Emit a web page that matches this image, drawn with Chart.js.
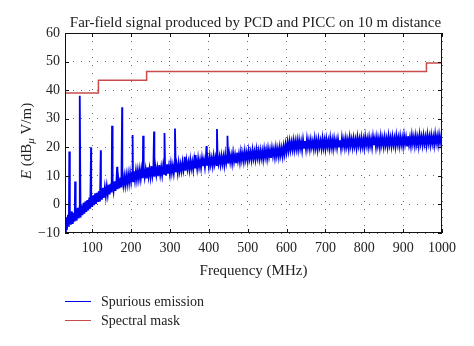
<!DOCTYPE html>
<html>
<head>
<meta charset="utf-8">
<script src="https://cdn.jsdelivr.net/npm/chart.js@4.4.1/dist/chart.umd.min.js"></script>
<style>
  html, body { margin: 0; padding: 0; background: #fff; }
  #wrap { position: relative; width: 474px; height: 346px; }
  #legend { position: absolute; left: 65px; top: 292px; font: 14px 'Liberation Serif', serif; color: #222; }
  .item { display: flex; align-items: center; height: 19px; }
  .swatch { width: 26px; height: 0; border-top: 1.5px solid; margin-right: 10px; }
</style>
</head>
<body>
<div id="wrap">
  <canvas id="spectrum" width="474" height="346"></canvas>
  <div id="legend"></div>
</div>
<script>
// field strength samples every 2.5 MHz, 30 .. 1000 MHz (dBuV/m), one row per 100 MHz
const traceStartMHz = 30;
const traceStepMHz = 2.5;
const emissionLevel = [
  -9.7, -4.5, -8.9, -3.6, -7.8, -3.9, -7.1, -2.4, -6.8, -2.9, -6.0, -1.5, -5.7, -1.2, -4.9, -0.8, -4.6, -0.3, -3.8, 0.6,
  -3.2, 1.1, -2.6, 1.5, -2.1, 2.4, -1.5, 2.6, -0.9, 3.2, -0.3, 3.9, 0.2, 4.1, 0.9, 4.7, 1.0, 5.3, 1.7, 5.8,

  2.3, 6.0, 2.9, 6.4, 3.4, 6.9, 3.5, 7.3, 4.2, 7.5, 4.6, 8.1, 4.7, 8.4, 5.3, 8.8, 5.6, 9.4, 6.0, 9.5,
  6.6, 9.9, 6.8, 10.3, 7.2, 10.6, 7.5, 11.0, 7.9, 11.2, 8.1, 11.6, 8.4, 11.8, 8.6, 11.9, 8.9, 12.2, 9.0, 12.3,

  9.2, 12.5, 9.5, 12.3, 9.1, 13.0, 9.8, 12.6, 9.6, 13.4, 10.0, 12.8, 9.7, 13.3, 10.3, 12.9, 9.9, 13.8, 10.4, 13.1,
  10.2, 13.6, 10.7, 13.2, 10.1, 14.0, 10.8, 13.5, 10.6, 14.2, 11.1, 13.7, 10.9, 14.3, 11.3, 13.9, 11.0, 14.6, 11.6, 14.1,

  11.7, 14.9, 12.0, 14.6, 11.8, 15.3, 12.4, 14.8, 12.1, 15.6, 12.6, 15.0, 12.2, 15.8, 12.9, 15.3, 12.5, 16.1, 13.1, 15.5,
  12.8, 16.3, 13.4, 15.7, 13.0, 16.5, 13.6, 16.0, 13.2, 16.8, 13.9, 16.2, 13.5, 17.0, 14.1, 16.4, 13.8, 17.1, 14.3, 16.7,

  13.9, 17.0, 14.2, 16.8, 13.8, 17.5, 14.6, 17.1, 14.3, 17.7, 14.8, 17.2, 14.4, 18.0, 15.0, 17.4, 14.7, 18.1, 15.3, 17.7,
  14.9, 18.4, 15.5, 17.9, 15.1, 18.6, 15.7, 18.1, 15.3, 18.8, 16.0, 18.3, 15.6, 19.0, 16.1, 18.5, 15.8, 19.2, 16.3, 18.7,

  15.9, 18.9, 16.2, 18.7, 15.8, 19.3, 16.5, 19.0, 16.1, 19.5, 16.7, 19.1, 16.3, 19.7, 16.9, 19.3, 16.5, 19.9, 17.0, 19.5,
  16.7, 20.0, 17.2, 19.7, 16.9, 20.3, 17.6, 21.0, 18.3, 21.7, 18.8, 22.0, 19.0, 21.8, 19.2, 22.3, 19.1, 22.1, 19.4, 22.4,

  19.2, 22.4, 19.6, 22.0, 19.0, 22.7, 19.8, 22.2, 19.3, 22.9, 19.9, 22.3, 19.4, 22.6, 20.0, 22.1, 19.5, 23.0, 19.8, 22.4,
  19.3, 22.8, 20.1, 22.3, 19.6, 23.1, 19.9, 22.5, 19.5, 22.9, 20.2, 22.4, 19.7, 23.2, 20.0, 22.6, 19.6, 23.0, 20.3, 22.5,

  19.8, 22.9, 20.2, 22.5, 19.6, 23.3, 20.4, 22.7, 19.9, 23.1, 20.3, 22.6, 19.7, 23.4, 20.5, 22.8, 20.0, 23.2, 20.4, 22.7,
  19.8, 23.5, 20.6, 22.9, 20.1, 23.3, 20.3, 22.8, 19.9, 23.6, 20.7, 23.0, 20.2, 23.4, 20.5, 22.9, 20.0, 23.7, 20.8, 23.1,

  20.1, 23.5, 20.6, 23.0, 20.0, 23.8, 20.8, 23.2, 20.3, 23.6, 20.7, 23.1, 20.2, 23.9, 20.9, 23.3, 20.4, 23.7, 20.8, 23.2,
  20.3, 24.0, 21.0, 23.4, 20.5, 23.8, 20.9, 23.3, 20.4, 24.1, 21.1, 23.5, 20.6, 23.9, 21.0, 23.4, 20.5, 24.2, 21.2, 23.6,

  20.6, 24.0, 21.1, 23.5, 20.5, 24.3, 21.3, 23.7, 20.8, 24.1, 21.2, 23.6, 20.7, 24.4, 21.4, 23.8, 20.9, 24.2, 21.3, 23.7,
  20.8, 24.5, 21.5, 23.9, 21.0, 24.3, 21.4, 23.8, 21.6
];

// narrowband spurs (harmonics of the carrier)
const spurFreqMHz = [41, 56, 68, 97, 122, 151, 164, 177, 204, 231, 259, 286, 313, 338, 366, 394, 421, 448];
const spurPeak = [18.5, 8, 38, 20, 19, 27.5, 13.2, 34, 24.3, 24, 25.5, 25, 26.6, 16.7, 17.3, 20.4, 26.4, 24];

// limit line: level holds from each edge to the next
const maskEdgesMHz = [30, 116, 240, 960, 1000];
const maskLevel = [39, 43.5, 46.5, 49.5, 49.5];

const freqTicks = [100, 200, 300, 400, 500, 600, 700, 800, 900, 1000];
const fieldTicks = [-10, 0, 10, 20, 30, 40, 50, 60];

const traceColor = '#0000f0';
const maskColor = 'rgb(200, 76, 76)';
const serif = "'Liberation Serif', 'Times New Roman', serif";

const tracePoints = emissionLevel.map((y, i) => ({ x: traceStartMHz + i * traceStepMHz, y }));
spurFreqMHz.forEach((f, i) => tracePoints.push({ x: f, y: spurPeak[i] }));
tracePoints.sort((a, b) => a.x - b.x);

const maskPoints = maskEdgesMHz.map((x, i) => ({ x, y: maskLevel[i] }));

Chart.defaults.font.family = serif;
Chart.defaults.color = '#222';

// box round the plot, inward ticks and the two titles
const decorations = {
  id: 'decorations',
  afterDatasetsDraw(chart) {
    const { ctx, chartArea: a, scales } = chart;
    ctx.save();
    ctx.strokeStyle = '#111';
    ctx.lineWidth = 1;
    ctx.strokeRect(a.left + 0.5, a.top + 0.5, a.right - a.left - 1, a.bottom - a.top - 1);
    ctx.beginPath();
    freqTicks.forEach(v => {
      const x = Math.round(scales.x.getPixelForValue(v)) + 0.5;
      ctx.moveTo(x, a.bottom); ctx.lineTo(x, a.bottom - 4);
      ctx.moveTo(x, a.top); ctx.lineTo(x, a.top + 4);
    });
    fieldTicks.forEach(v => {
      const y = Math.round(scales.y.getPixelForValue(v)) + 0.5;
      ctx.moveTo(a.left, y); ctx.lineTo(a.left + 4, y);
      ctx.moveTo(a.right, y); ctx.lineTo(a.right - 4, y);
    });
    ctx.stroke();

    ctx.fillStyle = '#222';
    ctx.font = '15px ' + serif;
    ctx.textAlign = 'center';
    ctx.textBaseline = 'alphabetic';
    ctx.fillText('Far-field signal produced by PCD and PICC on 10 m distance', (a.left + a.right) / 2 + 2, 27);

    // E (dB_mu V/m), rotated
    const parts = [
      { text: 'E', font: 'italic 15px ' + serif, dy: 0 },
      { text: ' (dB', font: '15px ' + serif, dy: 0 },
      { text: '\u03bc', font: 'italic 11px ' + serif, dy: 3 },
      { text: ' V/m)', font: '15px ' + serif, dy: 0 }
    ];
    let total = 0;
    parts.forEach(p => { ctx.font = p.font; p.w = ctx.measureText(p.text).width; total += p.w; });
    ctx.translate(31, 141);
    ctx.rotate(-Math.PI / 2);
    ctx.textAlign = 'left';
    let cx = -total / 2;
    parts.forEach(p => {
      ctx.font = p.font;
      ctx.fillText(p.text, cx, p.dy);
      cx += p.w;
    });
    ctx.restore();
  }
};

new Chart(document.getElementById('spectrum'), {
  type: 'line',
  data: {
    datasets: [
      {
        label: 'Spurious emission',
        data: tracePoints,
        borderColor: traceColor,
        borderWidth: 1.8,
        pointRadius: 0,
        tension: 0
      },
      {
        label: 'Spectral mask',
        data: maskPoints,
        borderColor: maskColor,
        borderWidth: 1.5,
        pointRadius: 0,
        stepped: 'before'
      }
    ]
  },
  options: {
    responsive: false,
    animation: false,
    events: [],
    layout: { padding: { left: 0, right: 32, top: 33, bottom: 66 } },
    plugins: { legend: { display: false }, tooltip: { enabled: false } },
    scales: {
      x: {
        type: 'linear',
        min: 30,
        max: 1000,
        afterBuildTicks: s => { s.ticks = freqTicks.map(v => ({ value: v })); },
        afterFit: s => { s.height = 47; },
        ticks: { padding: 7, font: { size: 14 }, maxRotation: 0, autoSkip: false, callback: v => String(v) },
        grid: { color: '#666', lineWidth: 1, drawTicks: false },
        border: { display: false, dash: [1, 7] },
        title: { display: true, text: 'Frequency (MHz)', font: { size: 15 }, padding: 0 }
      },
      y: {
        min: -10,
        max: 60,
        afterBuildTicks: s => { s.ticks = fieldTicks.map(v => ({ value: v })); },
        afterFit: s => { s.width = 65; },
        ticks: {
          padding: 5,
          font: { size: 14 },
          callback: v => (v < 0 ? '\u2212' + Math.abs(v) : String(v))
        },
        grid: { color: '#666', lineWidth: 1, drawTicks: false },
        border: { display: false, dash: [1, 7] }
      }
    }
  },
  plugins: [decorations]
});

document.getElementById('legend').innerHTML = [
  ['Spurious emission', traceColor],
  ['Spectral mask', maskColor]
].map(([name, color]) =>
  '<div class="item"><span class="swatch" style="border-color:' + color + '"></span>' + name + '</div>'
).join('');
</script>
</body>
</html>
